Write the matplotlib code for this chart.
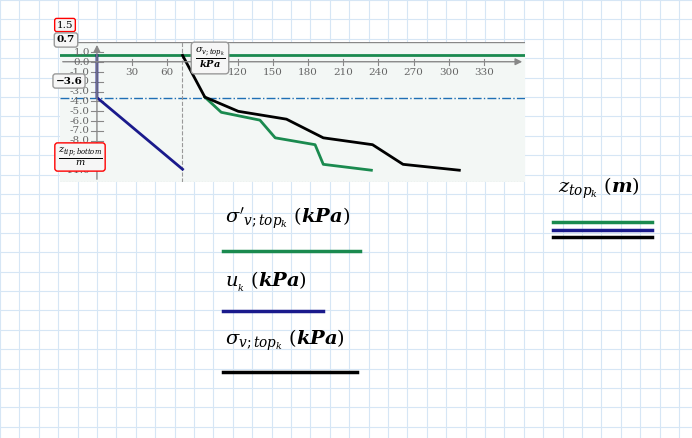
import numpy as np
import matplotlib.pyplot as plt

plt.rcParams['mathtext.fontset'] = 'dejavuserif'

# data
z_top = 0.7
z_water = -3.6
x_dash = 72.5
u_x = [0, 0, 73]
u_z = [0.7, -3.6, -10.9]
sv_x = [73, 92, 120.5, 161.6, 193, 235, 261, 309]
sv_z = [0.7, -3.55, -5.0, -5.8, -7.7, -8.4, -10.4, -11.0]
se_x = [92, 106, 139, 152, 186, 193, 234]
se_z = [-3.55, -5.1, -5.9, -7.7, -8.4, -10.4, -11.0]
xticks = [30, 60, 120, 150, 180, 210, 240, 270, 300, 330]
yticks = [1.0, 0.0, -1.0, -2.0, -3.0, -4.0, -5.0, -6.0, -7.0, -8.0, -9.0, -10.0, -11.0]

W, H = 692, 438
fig = plt.figure(figsize=(W / 100, H / 100), dpi=100)
bg = fig.add_axes([0, 0, 1, 1])
bg.set_xlim(0, W)
bg.set_ylim(H, 0)
bg.axis('off')
for gx in np.arange(0, W, 19.4):
    bg.axvline(gx, color='#d6e6f5', lw=0.8)
for gy in np.arange(0, H, 19.4):
    bg.axhline(gy, color='#d6e6f5', lw=0.8)

green = '#1a8a4f'
blue = '#1a1a8c'

# plot area: pixels x 60..525, y 42..182
ax = fig.add_axes([60 / W, 1 - 182 / H, 465 / W, 140 / H])
ax.set_facecolor('#f3f7f5')
ax.set_xlim(-31.5, 365)
ax.set_ylim(-12.2, 2.06)
for s in ax.spines.values():
    s.set_visible(False)
ax.set_xticks([])
ax.set_yticks([])
ax.axhline(2.06, color='#888888', lw=1)
ax.axhline(-12.2, color='#aaaaaa', lw=0.8, ls=':')
ax.annotate('', xy=(365, 0.05), xytext=(-31.5, 0.05),
            arrowprops=dict(arrowstyle='-|>', color='#888888', lw=1))
ax.annotate('', xy=(0, 2.05), xytext=(0, -12.2),
            arrowprops=dict(arrowstyle='-|>', color='#888888', lw=1))
for t in xticks:
    ax.plot([t, t], [-0.25, 0.35], color='#888888', lw=0.8)
    ax.text(t, -0.55, '%d' % t, ha='center', va='top', fontsize=7.5,
            family='DejaVu Serif', color='#666666')
for t in yticks:
    ax.plot([-5, 5], [t, t], color='#888888', lw=0.8)
    ax.text(-6, t, '%.1f' % t, ha='right', va='center', fontsize=7.5,
            family='DejaVu Serif', color='#666666')

ax.axhline(z_top, color=green, lw=2)
ax.axhline(z_water, color='#1f6fb5', lw=1, ls='-.')
ax.axvline(x_dash, color='#999999', lw=0.8, ls='--')
ax.plot(u_x, u_z, color=blue, lw=2)
ax.plot(se_x, se_z, color=green, lw=2)
ax.plot(sv_x, sv_z, color='black', lw=2)

# overlay for the labels on top of the plot
top = fig.add_axes([0, 0, 1, 1])
top.set_xlim(0, W)
top.set_ylim(H, 0)
top.axis('off')
box = dict(boxstyle='round,pad=0.25', fc='#f6f6f6', ec='#999999', lw=1)
top.text(65, 25, '1.5', fontsize=7.5, family='DejaVu Serif', ha='center', va='center',
         bbox=dict(boxstyle='round,pad=0.2', fc='#f6f6f6', ec='red', lw=1))
top.text(66, 40, '0.7', fontsize=7.5, family='DejaVu Serif', ha='center', va='center',
         weight='bold', bbox=box)
top.text(69, 81, '−3.6', fontsize=7.5, family='DejaVu Serif', ha='center', va='center',
         weight='bold', bbox=box)
top.text(80, 157, r'$\frac{z_{tip;bottom}}{m}$', fontsize=10, ha='center', va='center',
         bbox=dict(boxstyle='round,pad=0.2', fc='#f6f6f6', ec='red', lw=1))
top.text(210, 58, r'$\frac{\sigma_{v;top_k}}{\boldsymbol{kPa}}$', fontsize=10,
         ha='center', va='center', bbox=box)

# legends
top.text(558, 188, r'$z_{top_k}\ (\boldsymbol{m})$', fontsize=14, va='center')
for yy, c in [(222, green), (230, blue), (237, 'black')]:
    top.plot([553, 652], [yy, yy], color=c, lw=2.5)
top.text(225, 218, r"$\sigma'_{v;top_k}\ (\boldsymbol{kPa})$", fontsize=14, va='center')
top.plot([223, 360], [251, 251], color=green, lw=2.5)
top.text(225, 282, r'$u_{_k}\ (\boldsymbol{kPa})$', fontsize=14, va='center')
top.plot([223, 323], [311, 311], color=blue, lw=2.5)
top.text(225, 340, r'$\sigma_{v;top_k}\ (\boldsymbol{kPa})$', fontsize=14, va='center')
top.plot([223, 357], [372, 372], color='black', lw=2.5)

plt.savefig('out.png', dpi=100)
